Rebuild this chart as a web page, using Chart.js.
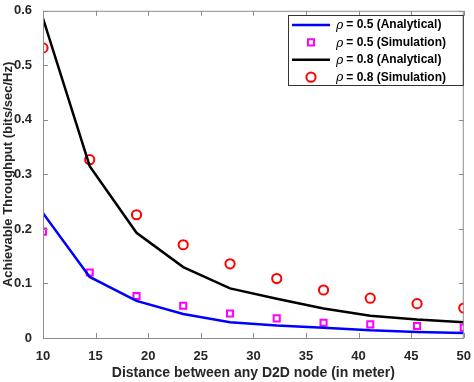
<!DOCTYPE html>
<html>
<head>
<meta charset="utf-8">
<script src="https://cdn.jsdelivr.net/npm/chart.js@4"></script>
<style>
  html, body { margin: 0; padding: 0; background: #fff; }
  #wrap { width: 474px; height: 382px; position: relative; }
</style>
</head>
<body>
<div id="wrap"><canvas id="chart"></canvas></div>
<script>
// distance between D2D nodes (m)
const distances = [10, 14.44, 18.89, 23.33, 27.78, 32.22, 36.67, 41.11, 45.56, 50];

// rho = 0.5
const rho05Analytical = [0.229, 0.112, 0.068, 0.044, 0.029, 0.023, 0.019, 0.014, 0.011, 0.009];
const rho05Simulation = [0.195, 0.120, 0.077, 0.059, 0.045, 0.036, 0.028, 0.025, 0.022, 0.019];

// rho = 0.8
const rho08Analytical = [0.586, 0.315, 0.193, 0.130, 0.091, 0.072, 0.054, 0.041, 0.034, 0.029];
const rho08Simulation = [0.532, 0.327, 0.226, 0.171, 0.136, 0.109, 0.088, 0.073, 0.063, 0.055];

const xTicks = [10, 15, 20, 25, 30, 35, 40, 45, 50];
const yTicks = [0, 0.1, 0.2, 0.3, 0.4, 0.5, 0.6];

const seriesLabels = ['\u03c1 = 0.5 (Analytical)', '\u03c1 = 0.5 (Simulation)',
                      '\u03c1 = 0.8 (Analytical)', '\u03c1 = 0.8 (Simulation)'];

const toPoints = ys => ys.map((y, i) => ({ x: distances[i], y: y }));

const axisColor = '#8c8c8c';
const textColor = '#262626';
const font = 'Arial, "Liberation Sans", sans-serif';

// inward ticks + box on top/right, like matlab
const boxPlugin = {
  id: 'box',
  afterDraw(chart) {
    const { ctx, chartArea: a, scales } = chart;
    ctx.save();
    ctx.strokeStyle = axisColor;
    ctx.lineWidth = 1;
    ctx.strokeRect(a.left + 0.5, a.top + 0.5, a.right - a.left - 1, a.bottom - a.top);
    ctx.beginPath();
    xTicks.forEach(v => {
      const px = Math.round(scales.x.getPixelForValue(v)) + 0.5;
      ctx.moveTo(px, a.bottom); ctx.lineTo(px, a.bottom - 5);
      ctx.moveTo(px, a.top); ctx.lineTo(px, a.top + 5);
    });
    yTicks.forEach(v => {
      const py = Math.round(scales.y.getPixelForValue(v)) + 0.5;
      ctx.moveTo(a.left, py); ctx.lineTo(a.left + 5, py);
      ctx.moveTo(a.right, py); ctx.lineTo(a.right - 5, py);
    });
    ctx.stroke();
    ctx.restore();
  }
};

// legend box inside the top right corner
const legendPlugin = {
  id: 'boxLegend',
  afterDraw(chart) {
    const { ctx, chartArea: a } = chart;
    const x0 = 288, y0 = 15, w = a.right - 1 - x0, h = 70, rowH = 17.4;
    ctx.save();
    ctx.fillStyle = '#fff';
    ctx.fillRect(x0, y0, w, h);
    ctx.strokeStyle = '#333';
    ctx.lineWidth = 1;
    ctx.strokeRect(x0 + 0.5, y0 + 0.5, w, h);
    chart.data.datasets.forEach((ds, i) => {
      const cy = y0 + 10 + i * rowH;
      if (ds.showLine) {
        ctx.strokeStyle = ds.borderColor;
        ctx.lineWidth = 2.5;
        ctx.beginPath();
        ctx.moveTo(292, cy); ctx.lineTo(330, cy);
        ctx.stroke();
      } else {
        ctx.fillStyle = 'rgba(0,0,0,0)';
        ctx.strokeStyle = ds.pointBorderColor;
        ctx.lineWidth = ds.pointBorderWidth;
        Chart.helpers.drawPoint(ctx, {
          pointStyle: ds.pointStyle, radius: ds.pointRadius, borderWidth: ds.pointBorderWidth, rotation: 0
        }, 311, cy);
      }
      ctx.fillStyle = '#000';
      ctx.textBaseline = 'middle';
      ctx.font = 'italic 12.5px "DejaVu Serif", serif';
      ctx.fillText('\u03c1', 336, cy + 1);
      ctx.font = 'bold 12px ' + font;
      ctx.fillText(ds.label.slice(1), 343, cy);
    });
    ctx.restore();
  }
};

new Chart(document.getElementById('chart'), {
  type: 'scatter',
  data: {
    datasets: [
      {
        label: seriesLabels[0], data: toPoints(rho05Analytical), showLine: true,
        borderColor: '#0000ff', borderWidth: 2.5, pointRadius: 0, pointHoverRadius: 0
      },
      {
        label: seriesLabels[1], data: toPoints(rho05Simulation), showLine: false,
        pointStyle: 'rect', pointRadius: 4.3, pointBorderWidth: 2,
        pointBorderColor: '#ff00ff', pointBackgroundColor: 'rgba(0,0,0,0)', borderColor: '#ff00ff'
      },
      {
        label: seriesLabels[2], data: toPoints(rho08Analytical), showLine: true,
        borderColor: '#000000', borderWidth: 2.5, pointRadius: 0, pointHoverRadius: 0
      },
      {
        label: seriesLabels[3], data: toPoints(rho08Simulation), showLine: false,
        pointStyle: 'circle', pointRadius: 4.6, pointBorderWidth: 2,
        pointBorderColor: '#ff0000', pointBackgroundColor: 'rgba(0,0,0,0)', borderColor: '#ff0000'
      }
    ]
  },
  options: {
    responsive: true,
    maintainAspectRatio: false,
    animation: false,
    layout: { padding: { top: 5, right: 8, left: 0, bottom: 0 } },
    plugins: { legend: { display: false }, tooltip: { enabled: false } },
    scales: {
      x: {
        type: 'linear', min: 10, max: 50,
        afterBuildTicks: s => { s.ticks = xTicks.map(v => ({ value: v })); },
        afterFit: s => { s.height = 44; },
        grid: { display: false },
        border: { display: false },
        ticks: { color: textColor, font: { family: font, size: 13, weight: 'bold' }, padding: 3, maxRotation: 0 },
        title: {
          display: true, text: 'Distance between any D2D node (in meter)',
          color: textColor, font: { family: font, size: 14, weight: 'bold' }, padding: { top: 0, bottom: 0 }
        }
      },
      y: {
        type: 'linear', min: 0, max: 0.6,
        afterBuildTicks: s => { s.ticks = yTicks.map(v => ({ value: v })); },
        afterFit: s => { s.width = 43; },
        grid: { display: false },
        border: { display: false },
        ticks: {
          color: textColor, font: { family: font, size: 13, weight: 'bold' }, padding: 3,
          callback: v => String(Math.round(v * 10) / 10)
        },
        title: {
          display: true, text: 'Achievable Throughput (bits/sec/Hz)',
          color: textColor, font: { family: font, size: 13, weight: 'bold' }, padding: { top: 1, bottom: 2 }
        }
      }
    }
  },
  plugins: [boxPlugin, legendPlugin]
});
</script>
</body>
</html>
